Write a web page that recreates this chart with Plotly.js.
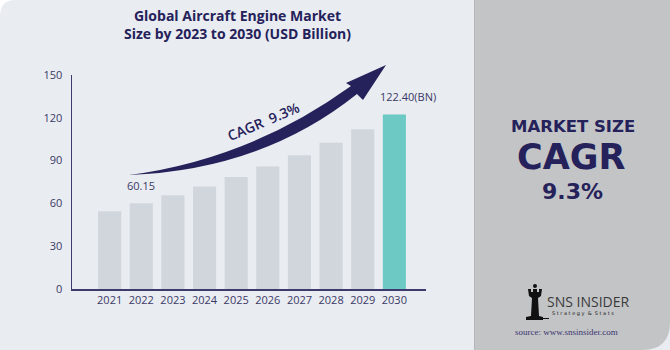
<!DOCTYPE html>
<html>
<head>
<meta charset="utf-8">
<script src="https://cdn.plot.ly/plotly-3.0.1.min.js"></script>
<style>html,body{margin:0;padding:0;background:#fff;}#chart{width:670px;height:350px;}</style>
</head>
<body>
<div id="chart"></div>
<script>
// ---- data ----
var years = ['2021','2022','2023','2024','2025','2026','2027','2028','2029','2030'];
var marketSize = [54.5, 60.15, 65.7, 71.8, 78.5, 85.8, 93.8, 102.5, 112.0, 122.4];
var yTicks = [0, 30, 60, 90, 120, 150];
var labelYears = ['2022', '2030'];
var labelTexts = ['60.15', '122.40(BN)'];
var cagrText = 'CAGR  9.3%';

// ---- geometry helpers (pixel -> paper) ----
var W = 670, H = 350;
var L = 72, R = 426, T = 75, B = 289;
function px(x){ return (x - L) / (R - L); }
function py(y){ return (B - y) / (B - T); }
function pt(x, y){ return px(x).toFixed(5) + ',' + py(y).toFixed(5); }

var navy = '#25215a';
var shapes = [];
// main light background with rounded top-left corner
shapes.push({type:'path', xref:'paper', yref:'paper', layer:'below', line:{width:0}, fillcolor:'#e9ecf1',
  path:'M'+pt(0,16)+' Q'+pt(0,0)+' '+pt(16,0)+' L'+pt(W,0)+' L'+pt(W,H)+' L'+pt(0,H)+' Z'});
// right gray panel with rounded bottom-right corner
shapes.push({type:'path', xref:'paper', yref:'paper', layer:'below', line:{width:0}, fillcolor:'#c3c4c6',
  path:'M'+pt(474,0)+' L'+pt(W,0)+' L'+pt(W,322)+' Q'+pt(W,H)+' '+pt(642,H)+' L'+pt(474,H)+' Z'});
shapes.push({type:'line', xref:'paper', yref:'paper', layer:'below', x0:px(474.5), x1:px(474.5), y0:py(0), y1:py(H),
  line:{color:'#b5b6b9', width:1}});
// curved CAGR arrow
shapes.push({type:'path', xref:'paper', yref:'paper', line:{width:0}, fillcolor:navy,
  path:'M'+pt(129,175)+' Q'+pt(262,170)+' '+pt(357,94)+' L'+pt(363,100)+' L'+pt(386,65)+' L'+pt(346,83)+
       ' L'+pt(351,86)+' Q'+pt(250,159)+' '+pt(129,175)+' Z'});
// rook logo icon
shapes.push({type:'path', xref:'paper', yref:'paper', line:{width:0}, fillcolor:'#111',
  path:'M'+pt(528,289)+' L'+pt(531,289)+' L'+pt(531,292)+' L'+pt(533,292)+' L'+pt(533,289)+' L'+pt(537,289)+
       ' L'+pt(537,292)+' L'+pt(539,292)+' L'+pt(539,289)+' L'+pt(542,289)+' L'+pt(541,296)+' L'+pt(538,298)+
       ' L'+pt(539,316)+' L'+pt(543,317)+' L'+pt(543,320)+' L'+pt(526,320)+' L'+pt(526,317)+' L'+pt(531,316)+
       ' L'+pt(532,298)+' L'+pt(529,296)+' Z'});
shapes.push({type:'circle', xref:'paper', yref:'paper', line:{width:0}, fillcolor:'#111',
  x0:px(533), x1:px(537), y0:py(288), y1:py(284)});
shapes.push({type:'line', xref:'paper', yref:'paper', x0:px(543), x1:px(549), y0:py(318.5), y1:py(318.5),
  line:{color:'#111', width:1}});

var annotations = [];
function txt(x, y, text, font, extra){
  var a = {xref:'paper', yref:'paper', x:px(x), y:py(y), text:text, showarrow:false,
           xanchor:'center', yanchor:'middle', font:font};
  if (extra) for (var k in extra) a[k] = extra[k];
  annotations.push(a);
}
// data labels
for (var i = 0; i < labelYears.length; i++) {
  var idx = years.indexOf(labelYears[i]);
  annotations.push({x: idx, y: marketSize[idx], xref:'x', yref:'y', text: labelTexts[i], showarrow:false,
    xanchor:'center', yanchor:'bottom', yshift: 8, xshift: (i === 1 ? 14 : 0),
    font:{family:'Open Sans, sans-serif', size:11, color:'#3b3966'}});
}
// title
txt(237, 24, '<b>Global Aircraft Engine Market<br>Size by 2023 to 2030 (USD Billion)</b>',
  {family:'Open Sans, sans-serif', size:14, color:navy}, {align:'center'});
// CAGR on arrow
txt(263, 121, cagrText, {family:'Open Sans, sans-serif', size:14, color:navy, weight:600}, {textangle:-23});
// right panel
txt(573, 126.5, '<b>MARKET SIZE</b>', {family:'DejaVu Sans, sans-serif', size:16.5, color:navy});
txt(571, 157, '<b>CAGR</b>', {family:'DejaVu Sans, sans-serif', size:35, color:navy});
txt(572, 191.5, '<b>9.3%</b>', {family:'DejaVu Sans, sans-serif', size:22, color:navy});
// logo text
txt(545, 301, 'SNS INSIDER', {family:'Open Sans, sans-serif', size:14, color:'#3a3a3a'}, {xanchor:'left'});
txt(550, 313, 'S t r a t e g y  &  S t a t s', {family:'DejaVu Sans, sans-serif', size:5, color:'#222'}, {xanchor:'left'});
txt(566, 332, 'source: www.snsinsider.com', {family:'Liberation Serif, serif', size:9, color:'#3a3670'});

var colors = years.map(function(y){ return y === '2030' ? '#6cc9c4' : '#d1d6dc'; });

var trace = {type:'bar', x: years, y: marketSize, marker:{color: colors, line:{width:0}}, hoverinfo:'none'};

var layout = {
  width: W, height: H,
  margin: {l:L, r:W-R, t:T, b:H-B, pad:0},
  paper_bgcolor:'rgba(0,0,0,0)', plot_bgcolor:'rgba(0,0,0,0)',
  bargap: 0.27,
  showlegend: false,
  xaxis: {type:'category', range:[-1.19, 10.0], showline:true, linecolor:'#3d3b6e', linewidth:1.5,
    showgrid:false, zeroline:false, ticks:'', fixedrange:true,
    tickfont:{family:'Open Sans, sans-serif', size:11, color:'#3b3966'}},
  yaxis: {range:[0,150], tickvals: yTicks, showline:true, linecolor:'#3d3b6e', linewidth:1.5,
    showgrid:false, zeroline:false, ticks:'', ticklabelstandoff:6, fixedrange:true,
    tickfont:{family:'Open Sans, sans-serif', size:11, color:'#3b3966'}},
  shapes: shapes,
  annotations: annotations
};

Plotly.newPlot('chart', [trace], layout, {displayModeBar:false, staticPlot:true});
</script>
</body>
</html>
